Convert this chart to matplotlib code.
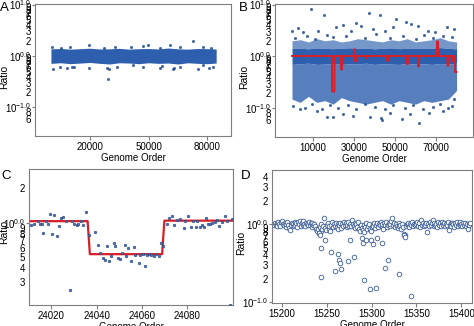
import numpy as np
import matplotlib
matplotlib.use('Agg')
import matplotlib.pyplot as plt
from matplotlib.ticker import FixedLocator, FixedFormatter

plt.rcParams['font.family'] = ['Liberation Sans', 'DejaVu Sans']
plt.rcParams['mathtext.fontset'] = 'custom'
plt.rcParams['mathtext.rm'] = 'Liberation Sans'
plt.rcParams['mathtext.it'] = 'Liberation Sans'

# ---------------- panel A : whole genome, normal sample ----------------
a_bin_x = [0, 5000, 10000, 15000, 20000, 25000, 30000, 35000, 40000, 45000,
           50000, 55000, 60000, 65000, 70000, 75000, 80000, 84500]
a_top = [1.38, 1.40, 1.36, 1.39, 1.42, 1.37, 1.38, 1.41, 1.36, 1.39,
         1.40, 1.37, 1.43, 1.38, 1.36, 1.40, 1.39, 1.37]
a_bot = [0.72, 0.74, 0.71, 0.73, 0.75, 0.72, 0.70, 0.74, 0.73, 0.71,
         0.74, 0.72, 0.73, 0.70, 0.74, 0.72, 0.71, 0.73]
a_out_x = [500, 5000, 10000, 19660, 27000, 33000, 41000, 47280, 49500, 56000,
           60920, 66000, 72860, 77600, 82000,
           1250, 4650, 8070, 10600, 11800, 19660, 28500, 29900, 29000, 34000,
           41800, 47300, 55800, 57000, 62300, 63000, 66000, 75400, 77600, 81000, 83100]
a_out_y = [1.50, 1.44, 1.47, 1.62, 1.45, 1.50, 1.48, 1.55, 1.62, 1.45,
           1.67, 1.48, 1.94, 1.50, 1.45,
           0.565, 0.61, 0.59, 0.61, 0.61, 0.59, 0.59, 0.565, 0.36, 0.61,
           0.656, 0.61, 0.58, 0.63, 0.565, 0.59, 0.61, 0.565, 0.656, 0.59, 0.61]

# ---------------- panel B : whole genome, tumour sample ----------------
b_bin_x = [0, 4000, 8000, 12000, 16000, 20000, 24000, 28000, 32000, 36000, 40000,
           44000, 48000, 52000, 56000, 60000, 64000, 68000, 72000, 76000, 80000]
b_core_top = [1.42, 1.45, 1.40, 1.46, 1.43, 1.41, 1.44, 1.47, 1.42, 1.45, 1.40,
              1.44, 1.46, 1.41, 1.43, 1.45, 1.42, 1.44, 1.48, 1.43, 1.40]
b_core_bot = [0.70, 0.72, 0.74, 0.70, 0.71, 0.73, 0.70, 0.72, 0.71, 0.74, 0.70,
              0.72, 0.71, 0.70, 0.73, 0.71, 0.72, 0.70, 0.73, 0.71, 0.74]
b_cloud_top = [2.0, 2.1, 1.9, 2.2, 2.0, 2.1, 1.9, 2.0, 2.2, 2.1, 2.0,
               1.9, 2.1, 2.0, 2.2, 1.9, 2.0, 2.1, 2.3, 2.0, 1.9]
b_cloud_bot = [0.15, 0.13, 0.17, 0.13, 0.14, 0.12, 0.16, 0.14, 0.13, 0.12, 0.13,
               0.14, 0.12, 0.14, 0.13, 0.12, 0.14, 0.13, 0.14, 0.15, 0.22]
b_out_x = [9030, 15490, 37440, 42930, 50670, 55520, 61170, 31300, 24850, 200,
           3060, 5480, 12740, 21620, 28880, 33730, 39380, 45020, 49060, 57940,
           66010, 69720, 75210, 78920,
           1450, 7100, 11130, 16780, 20000, 26460, 35340, 40990, 47440, 53900,
           60350, 64390, 68420, 73270, 77790,
           20010, 43090, 43900, 61650, 53420, 37760, 29690, 16780, 3870, 11940,
           24850, 47440, 57130, 66810, 73270, 77790, 78920,
           640, 6290, 9520, 14360, 18390, 22430, 27270, 31300, 35340, 40180,
           45020, 49060, 54710, 58740, 63590, 68420, 71970, 75690]
b_out_y = [8.3, 6.2, 6.8, 6.2, 5.3, 4.7, 3.8, 4.4, 4.1, 3.06,
           3.5, 2.9, 3.15, 3.66, 3.15, 3.94, 3.4, 3.15, 3.66, 4.25,
           3.15, 2.92, 3.66, 3.4,
           2.3, 2.45, 2.17, 2.6, 2.34, 2.45, 2.24, 2.71, 2.24, 2.52,
           2.17, 2.6, 2.24, 2.52, 2.34,
           0.068, 0.065, 0.059, 0.052, 0.063, 0.068, 0.070, 0.068, 0.095, 0.088,
           0.076, 0.082, 0.076, 0.082, 0.088, 0.11, 0.15,
           0.11, 0.10, 0.12, 0.098, 0.114, 0.10, 0.114, 0.098, 0.12, 0.107,
           0.098, 0.114, 0.10, 0.114, 0.098, 0.107, 0.12, 0.10]
b_seg_start = [0, 19500, 20700, 23900, 24400, 30300, 30700, 31100, 36000, 36500,
               46300, 46800, 55900, 56400, 61300, 61800, 70500, 71100, 75600, 76100,
               77700, 78200, 79300]
b_seg_end = [19400, 20600, 23800, 24300, 30200, 30600, 31000, 35900, 36400, 46200,
             46700, 55800, 56300, 61200, 61700, 70400, 71000, 75500, 76000, 77600,
             78100, 79200, 80000]
b_seg_value = [1.02, 0.21, 1.02, 0.56, 1.02, 1.38, 0.80, 1.02, 0.92, 1.02,
               0.82, 1.02, 0.71, 1.02, 0.64, 1.02, 1.95, 1.02, 0.66, 1.02,
               0.82, 1.02, 0.50]

# ---------------- panel C : zoom on a deletion ----------------
c_x = [24010.9, 24012.4, 24013.9, 24014.9, 24015.9, 24016.4, 24017.4, 24018.3, 24019.3, 24020.4,
       24021.3, 24022.3, 24023.3, 24024.2, 24025.3, 24026.3, 24028.2, 24029.3, 24030.1, 24031.2,
       24031.9, 24033.1, 24034.1, 24035.2, 24036.4, 24039.3, 24040.5, 24041.6, 24042.6, 24043.5,
       24044.4, 24045.6, 24046.4, 24047.5, 24048.2, 24049.4, 24050.4, 24051.2, 24052.4, 24053.1,
       24054.1, 24055.3, 24056.4, 24057.1, 24058.6, 24059.3, 24060.4, 24061.6, 24062.3, 24063.0,
       24064.2, 24065.3, 24066.3, 24067.5, 24068.5, 24069.3, 24071.2, 24072.2, 24073.4, 24074.4,
       24075.6, 24077.1, 24078.6, 24079.3, 24080.5, 24081.6, 24082.6, 24083.8, 24084.5, 24085.6,
       24086.7, 24087.5, 24088.5, 24089.4, 24090.4, 24091.2, 24092.4, 24093.4, 24094.4, 24095.6,
       24096.7, 24097.9, 24098.9, 24099.8]
c_y = [0.947, 0.980, 1.035, 0.980, 0.967, 0.810, 1.035, 0.980, 1.20, 0.799,
       1.177, 0.757, 0.934, 1.10, 1.123, 1.035, 0.257, 1.035, 0.980, 0.960,
       0.967, 1.035, 0.960, 1.226, 0.773, 0.827, 0.643, 0.539, 0.490, 0.474,
       0.630, 0.458, 0.514, 0.661, 0.630, 0.490, 0.480, 0.539, 0.639, 0.514,
       0.597, 0.458, 0.609, 0.525, 0.440, 0.525, 0.532, 0.414, 0.525, 0.532,
       0.521, 0.514, 0.532, 0.514, 0.661, 0.630, 0.980, 1.107, 1.146, 0.947,
       1.049, 1.085, 0.897, 1.035, 1.146, 0.915, 1.028, 0.915, 1.035, 0.915,
       0.947, 0.915, 1.10, 0.967, 0.980, 0.993, 1.014, 1.049, 0.928, 1.014,
       1.146, 1.028, 0.192, 1.085]
c_seg_start = [24010, 24037, 24070]
c_seg_end = [24036, 24069, 24101]
c_seg_value = [1.03, 0.53, 1.04]

# ---------------- panel D : zoom, single probes ----------------
d_start = 15190
d_band = [1.00, 0.97, 1.03, 0.98, 1.05, 0.96, 1.08, 1.02, 0.95, 1.07,
          1.10, 1.01, 0.97, 1.04, 0.93, 1.00, 1.06, 0.98, 0.90, 0.84,
          0.99, 1.05, 1.02, 0.95, 1.08, 0.97, 1.03, 0.92, 1.06, 1.00,
          1.11, 0.96, 1.04, 1.09, 0.98, 1.02, 0.94, 1.05, 1.00, 0.97,
          1.07, 0.99, 1.03, 0.93, 1.05, 0.98, 1.02, 0.96, 0.88, 0.81,
          0.86, 0.78, 0.92, 0.83, 1.00, 0.87, 0.95, 1.21, 0.90, 0.84,
          0.97, 1.03, 0.88, 0.94, 0.82, 0.99, 1.06, 0.91, 1.02, 0.96,
          1.04, 0.93, 1.00, 0.86, 0.97, 1.05, 0.90, 1.02, 0.95, 1.08,
          0.98, 1.03, 0.91, 0.99, 1.06, 0.94, 1.01, 0.96, 1.12, 1.00,
          0.95, 1.04, 0.89, 1.00, 0.93, 1.07, 0.87, 0.82, 0.97, 0.90,
          0.84, 0.98, 0.79, 0.92, 1.03, 0.86, 0.95, 1.01, 0.88, 0.81,
          0.93, 1.02, 0.96, 1.05, 0.90, 0.99, 1.04, 0.92, 1.01, 0.97,
          1.06, 0.94, 1.00, 0.88, 1.03, 0.97, 1.07, 0.91, 0.99, 1.04,
          0.95, 1.02, 1.10, 1.22, 0.98, 1.05, 0.93, 1.01, 0.96, 0.90,
          1.03, 0.94, 0.99, 0.87, 1.02, 0.92, 0.76, 0.72, 0.96, 1.00,
          0.98, 1.05, 0.93, 1.01, 0.97, 1.06, 0.95, 1.02, 0.99, 1.04,
          1.00, 1.08, 0.96, 1.03, 0.92, 1.15, 0.99, 1.05, 0.94, 1.01,
          0.97, 1.04, 0.80, 1.02, 0.95, 1.07, 0.99, 1.03, 1.12, 0.96,
          1.05, 0.98, 1.01, 0.93, 1.06, 0.99, 1.03, 0.95, 1.08, 1.00,
          0.97, 1.04, 0.94, 1.02, 0.99, 1.06, 0.85, 0.98, 1.03, 0.96,
          1.05, 1.00, 0.93, 1.04, 0.98, 1.07, 0.95, 1.02, 0.99, 1.06,
          1.01, 0.96, 1.05, 0.98, 1.03, 0.94, 1.00, 0.86, 1.02, 0.97,
          1.04]
d_out_x = [15241, 15242, 15244, 15244, 15248, 15255, 15259, 15263, 15264, 15265,
           15266, 15274, 15276, 15280, 15289, 15290, 15292, 15294, 15298, 15299,
           15302, 15305, 15306, 15312, 15315, 15318, 15330, 15336, 15337, 15344]
d_out_y = [0.78, 0.73, 0.50, 0.21, 0.63, 0.445, 0.25, 0.415, 0.35, 0.32,
           0.265, 0.335, 0.63, 0.377, 0.67, 0.57, 0.19, 0.63, 0.149, 0.63,
           0.56, 0.153, 0.67, 0.58, 0.273, 0.348, 0.231, 0.72, 0.68, 0.119]

blue = '#2d5fae'
dark = '#1c3d78'
red = '#d81e27'
grey = '#7f7f7f'
fs = 7


def step_line(starts, ends, values):
    xs, ys = [], []
    for s, e, v in zip(starts, ends, values):
        xs += [s, e]
        ys += [v, v]
    return xs, ys


def style(ax, xticks, majors, minors, ylab_xy):
    ax.set_yscale('log')
    for sp in ax.spines.values():
        sp.set_color(grey)
        sp.set_linewidth(0.8)
    ax.set_xticks(xticks)
    ax.set_xticklabels([str(t) for t in xticks])
    ax.tick_params(axis='x', length=3, color=grey, labelsize=fs, pad=1.5)
    ax.yaxis.set_major_locator(FixedLocator(majors))
    ax.yaxis.set_major_formatter(FixedFormatter(
        ['10$^{%.1f}$' % np.log10(m) for m in majors]))
    ax.yaxis.set_minor_locator(FixedLocator(minors))
    ax.yaxis.set_minor_formatter(FixedFormatter(
        [str(int(round(m / 10 ** np.floor(np.log10(m) + 1e-9)))) for m in minors]))
    ax.tick_params(axis='y', which='major', length=2, color=grey, labelsize=fs, pad=1)
    ax.tick_params(axis='y', which='minor', length=0, labelsize=fs, pad=3)
    ax.set_xlabel('Genome Order', fontsize=fs, labelpad=0.5)
    ax.set_ylabel('Ratio', fontsize=fs + 0.5)
    ax.yaxis.set_label_coords(*ylab_xy)


fig = plt.figure(figsize=(4.74, 3.26), dpi=100)
axA = fig.add_axes([0.074, 0.583, 0.413, 0.405])
axB = fig.add_axes([0.580, 0.580, 0.418, 0.408])
axC = fig.add_axes([0.061, 0.064, 0.431, 0.418])
axD = fig.add_axes([0.574, 0.070, 0.422, 0.409])

minAB = [2, 3, 4, 5, 6, 7, 8, 9, 0.2, 0.3, 0.4, 0.5, 0.6, 0.7, 0.8, 0.9, 0.06, 0.08]

# A
axA.fill_between(a_bin_x, a_bot, a_top, color=blue, lw=0)
axA.scatter(a_out_x, a_out_y, s=3, color=blue, edgecolors=dark, linewidths=0.3)
style(axA, [20000, 50000, 80000], [1, 0.1, 10], minAB, (-0.135, 0.45))
axA.set_xlim(-8100, 92000)
axA.set_ylim(0.028, 10.3)

# B
axB.fill_between(b_bin_x, b_cloud_bot, b_core_bot, color=blue, alpha=0.8, lw=0)
axB.fill_between(b_bin_x, b_core_top, b_cloud_top, color=blue, alpha=0.65, lw=0)
axB.fill_between(b_bin_x, b_core_bot, b_core_top, color=blue, lw=0)
axB.scatter(b_out_x, b_out_y, s=3, color=blue, edgecolors=dark, linewidths=0.3)
bx, by = step_line(b_seg_start, b_seg_end, b_seg_value)
axB.plot(bx, by, color=red, lw=1.4)
style(axB, [10000, 30000, 50000, 70000], [1, 0.1, 10], minAB, (-0.13, 0.45))
axB.set_xlim(-8300, 88000)
axB.set_ylim(0.028, 10.3)

# C
axC.scatter(c_x, c_y, s=4, color='#4d6fae', edgecolors=dark, linewidths=0.3, zorder=3)
cx, cy = step_line(c_seg_start, c_seg_end, c_seg_value)
axC.plot(cx, cy, color=red, lw=1.6, zorder=2)
style(axC, [24020, 24040, 24060, 24080], [1], [2, 0.3, 0.4, 0.5, 0.6, 0.7, 0.8, 0.9],
      (-0.095, 0.54))
axC.set_xlim(24010, 24100.5)
axC.set_ylim(0.19, 2.95)

# D
d_x = np.arange(d_start, d_start + len(d_band))
axD.scatter(d_x, d_band, s=11, facecolors='white', edgecolors='#3b5d98', linewidths=0.6)
axD.scatter(d_out_x, d_out_y, s=11, facecolors='white', edgecolors='#3b5d98', linewidths=0.6)
style(axD, [15200, 15250, 15300, 15350, 15400], [1, 0.1],
      [2, 3, 4, 0.2, 0.3, 0.4, 0.5, 0.6, 0.7, 0.8, 0.9], (-0.13, 0.455))
axD.set_xlim(15189, 15412)
axD.set_ylim(0.097, 5.0)

for txt, x, y in [('A', 0.0, 0.995), ('B', 0.503, 0.995), ('C', 0.003, 0.48), ('D', 0.508, 0.48)]:
    fig.text(x, y, txt, fontsize=9.5, va='top', ha='left')

fig.savefig('out.png', dpi=100)
